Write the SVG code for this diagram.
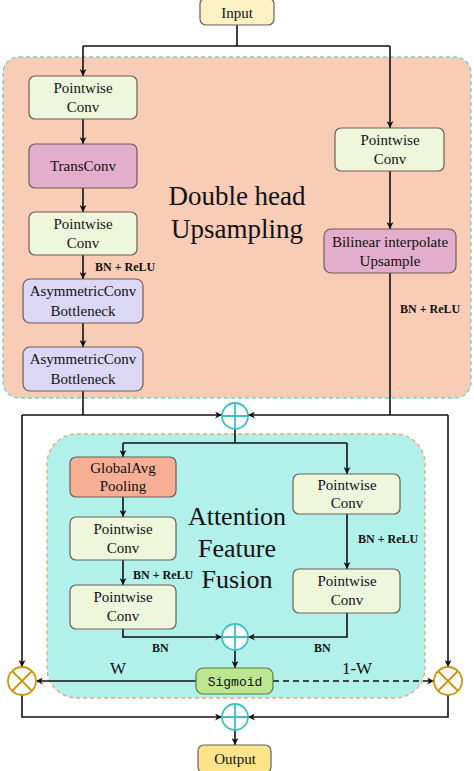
<svg xmlns="http://www.w3.org/2000/svg" width="474" height="771" viewBox="0 0 474 771">
<defs>
<marker id="arr" viewBox="0 0 10 10" refX="10" refY="5" markerWidth="7" markerHeight="7" orient="auto" markerUnits="userSpaceOnUse">
<path d="M0,0 L10,5 L0,10 L3,5 z" fill="#111"/>
</marker>
<style>
text{font-family:'Liberation Serif','Times New Roman',Times,serif}
.box{stroke:#6b5f55;stroke-width:1.2}
.t{font-size:15px;fill:#111;text-anchor:middle}
.lbl{font-size:12px;fill:#111;font-weight:bold}
.big{font-size:27px;fill:#111;text-anchor:middle}
.ln{fill:none;stroke:#111;stroke-width:1.6}
.pw{fill:#eef7dc}
.plus{fill:#fff;stroke:#3fbfc0;stroke-width:1.8}
.mul{fill:#fff;stroke:#c8960e;stroke-width:1.8}
</style>
</defs>
<rect width="474" height="771" fill="#fff"/>
<g id="region-upsampling">
<rect x="3" y="57" width="468" height="341" rx="16" fill="#f9ccb6" stroke="#6fd3c4" stroke-width="1.3" stroke-dasharray="4,3"/>
<text class="big" x="237" y="205">Double head</text>
<text class="big" x="237" y="238">Upsampling</text>
</g>
<g id="region-aff">
<rect x="47" y="434" width="378" height="264" rx="30" fill="#b2f0ea" stroke="#f0a47c" stroke-width="1.3" stroke-dasharray="4,3"/>
<text class="big" x="237" y="525" style="font-size:26px">Attention</text>
<text class="big" x="237" y="557" style="font-size:26px">Feature</text>
<text class="big" x="237" y="588" style="font-size:26px">Fusion</text>
</g>
<g id="connectors">
<path class="ln" d="M237,25 V46 M83,46 H390"/>
<path class="ln" d="M83,46 V76" marker-end="url(#arr)"/>
<path class="ln" d="M390,46 V128" marker-end="url(#arr)"/>
<path class="ln" d="M83,119 V144" marker-end="url(#arr)"/>
<path class="ln" d="M83,188 V212" marker-end="url(#arr)"/>
<path class="ln" d="M83,255 V279" marker-end="url(#arr)"/>
<path class="ln" d="M83,323 V347" marker-end="url(#arr)"/>
<path class="ln" d="M390,171 V229" marker-end="url(#arr)"/>
<path class="ln" d="M83,391 V415"/>
<path class="ln" d="M390,273 V415"/>
<path class="ln" d="M22,415 H222" marker-end="url(#arr)"/>
<path class="ln" d="M448,415 H248" marker-end="url(#arr)"/>
<path class="ln" d="M22,415 V667" marker-end="url(#arr)"/>
<path class="ln" d="M448,415 V667" marker-end="url(#arr)"/>
<path class="ln" d="M235,429 V443 M123,443 H347"/>
<path class="ln" d="M123,443 V457" marker-end="url(#arr)"/>
<path class="ln" d="M347,443 V474" marker-end="url(#arr)"/>
<path class="ln" d="M123,497 V517" marker-end="url(#arr)"/>
<path class="ln" d="M123,560 V585" marker-end="url(#arr)"/>
<path class="ln" d="M347,514 V569" marker-end="url(#arr)"/>
<path class="ln" d="M123,629 V637 H222" marker-end="url(#arr)"/>
<path class="ln" d="M347,613 V637 H248" marker-end="url(#arr)"/>
<path class="ln" d="M235,650 V668" marker-end="url(#arr)"/>
<path class="ln" d="M196,681 H36" marker-end="url(#arr)"/>
<path class="ln" d="M273,681 H434" stroke-dasharray="6,4" marker-end="url(#arr)"/>
<path class="ln" d="M22,695 V717 H222" marker-end="url(#arr)"/>
<path class="ln" d="M448,695 V717 H248" marker-end="url(#arr)"/>
<path class="ln" d="M235,730 V745" marker-end="url(#arr)"/>
<text class="lbl" x="95" y="271">BN + ReLU</text>
<text class="lbl" x="400" y="313">BN + ReLU</text>
<text class="lbl" x="133" y="579">BN + ReLU</text>
<text class="lbl" x="358" y="543">BN + ReLU</text>
<text class="lbl" x="152" y="652">BN</text>
<text class="lbl" x="314" y="652">BN</text>
<text class="t" x="118" y="674" style="font-size:17px">W</text>
<text class="t" x="357" y="674" style="font-size:17px">1-W</text>
</g>
<g id="input"><rect class="box" x="200" y="-2" width="74" height="27" rx="6" fill="#fcf1c3"/><text class="t" x="237" y="18">Input</text></g>
<g id="pw1"><rect class="box pw" x="29" y="76" width="108" height="43" rx="6"/><text class="t" x="83" y="93">Pointwise</text><text class="t" x="83" y="112">Conv</text></g>
<g id="transconv"><rect class="box" x="29" y="144" width="108" height="44" rx="6" fill="#e2aecb"/><text class="t" x="83" y="171">TransConv</text></g>
<g id="pw2"><rect class="box pw" x="29" y="212" width="108" height="43" rx="6"/><text class="t" x="83" y="229">Pointwise</text><text class="t" x="83" y="248">Conv</text></g>
<g id="acb1"><rect class="box" x="23" y="279" width="120" height="44" rx="7" fill="#dcd7f5"/><text class="t" x="83" y="296">AsymmetricConv</text><text class="t" x="83" y="316">Bottleneck</text></g>
<g id="acb2"><rect class="box" x="23" y="347" width="120" height="44" rx="7" fill="#dcd7f5"/><text class="t" x="83" y="364">AsymmetricConv</text><text class="t" x="83" y="384">Bottleneck</text></g>
<g id="pw-right"><rect class="box pw" x="335" y="128" width="109" height="43" rx="6"/><text class="t" x="390" y="145">Pointwise</text><text class="t" x="390" y="164">Conv</text></g>
<g id="bilinear"><rect class="box" x="324" y="229" width="132" height="44" rx="7" fill="#e2aecb"/><text class="t" x="390" y="247">Bilinear interpolate</text><text class="t" x="390" y="266">Upsample</text></g>
<g id="add1"><circle class="plus" cx="235" cy="416" r="13"/><path d="M222,416 H248 M235,403 V429" stroke="#3fbfc0" stroke-width="1.8"/></g>
<g id="gap"><rect class="box" x="70" y="457" width="106" height="40" rx="6" fill="#f6ae95"/><text class="t" x="123" y="473">GlobalAvg</text><text class="t" x="123" y="491">Pooling</text></g>
<g id="aff-pw1"><rect class="box pw" x="70" y="517" width="106" height="43" rx="6"/><text class="t" x="123" y="534">Pointwise</text><text class="t" x="123" y="553">Conv</text></g>
<g id="aff-pw2"><rect class="box pw" x="70" y="585" width="106" height="44" rx="6"/><text class="t" x="123" y="602">Pointwise</text><text class="t" x="123" y="621">Conv</text></g>
<g id="aff-pw3"><rect class="box pw" x="293" y="474" width="107" height="40" rx="6"/><text class="t" x="347" y="490">Pointwise</text><text class="t" x="347" y="508">Conv</text></g>
<g id="aff-pw4"><rect class="box pw" x="293" y="569" width="107" height="44" rx="6"/><text class="t" x="347" y="586">Pointwise</text><text class="t" x="347" y="605">Conv</text></g>
<g id="add2"><circle class="plus" cx="235" cy="637" r="13"/><path d="M222,637 H248 M235,624 V650" stroke="#3fbfc0" stroke-width="1.8"/></g>
<g id="sigmoid"><rect x="196" y="668" width="77" height="26" rx="7" fill="#bde690" stroke="#5d7d3e" stroke-width="1.2"/><text x="235" y="686" style="font-family:'Liberation Mono','Courier New',monospace;font-size:13px;text-anchor:middle;fill:#111">Sigmoid</text></g>
<g id="mul-left"><circle class="mul" cx="22" cy="681" r="14"/><path d="M12,671 L32,691 M32,671 L12,691" stroke="#c8960e" stroke-width="1.8"/></g>
<g id="mul-right"><circle class="mul" cx="448" cy="681" r="14"/><path d="M438,671 L458,691 M458,671 L438,691" stroke="#c8960e" stroke-width="1.8"/></g>
<g id="add3"><circle class="plus" cx="235" cy="717" r="13"/><path d="M222,717 H248 M235,704 V730" stroke="#3fbfc0" stroke-width="1.8"/></g>
<g id="output"><rect class="box" x="198" y="745" width="73" height="28" rx="6" fill="#fbe48c"/><text class="t" x="235" y="764">Output</text></g>
</svg>
